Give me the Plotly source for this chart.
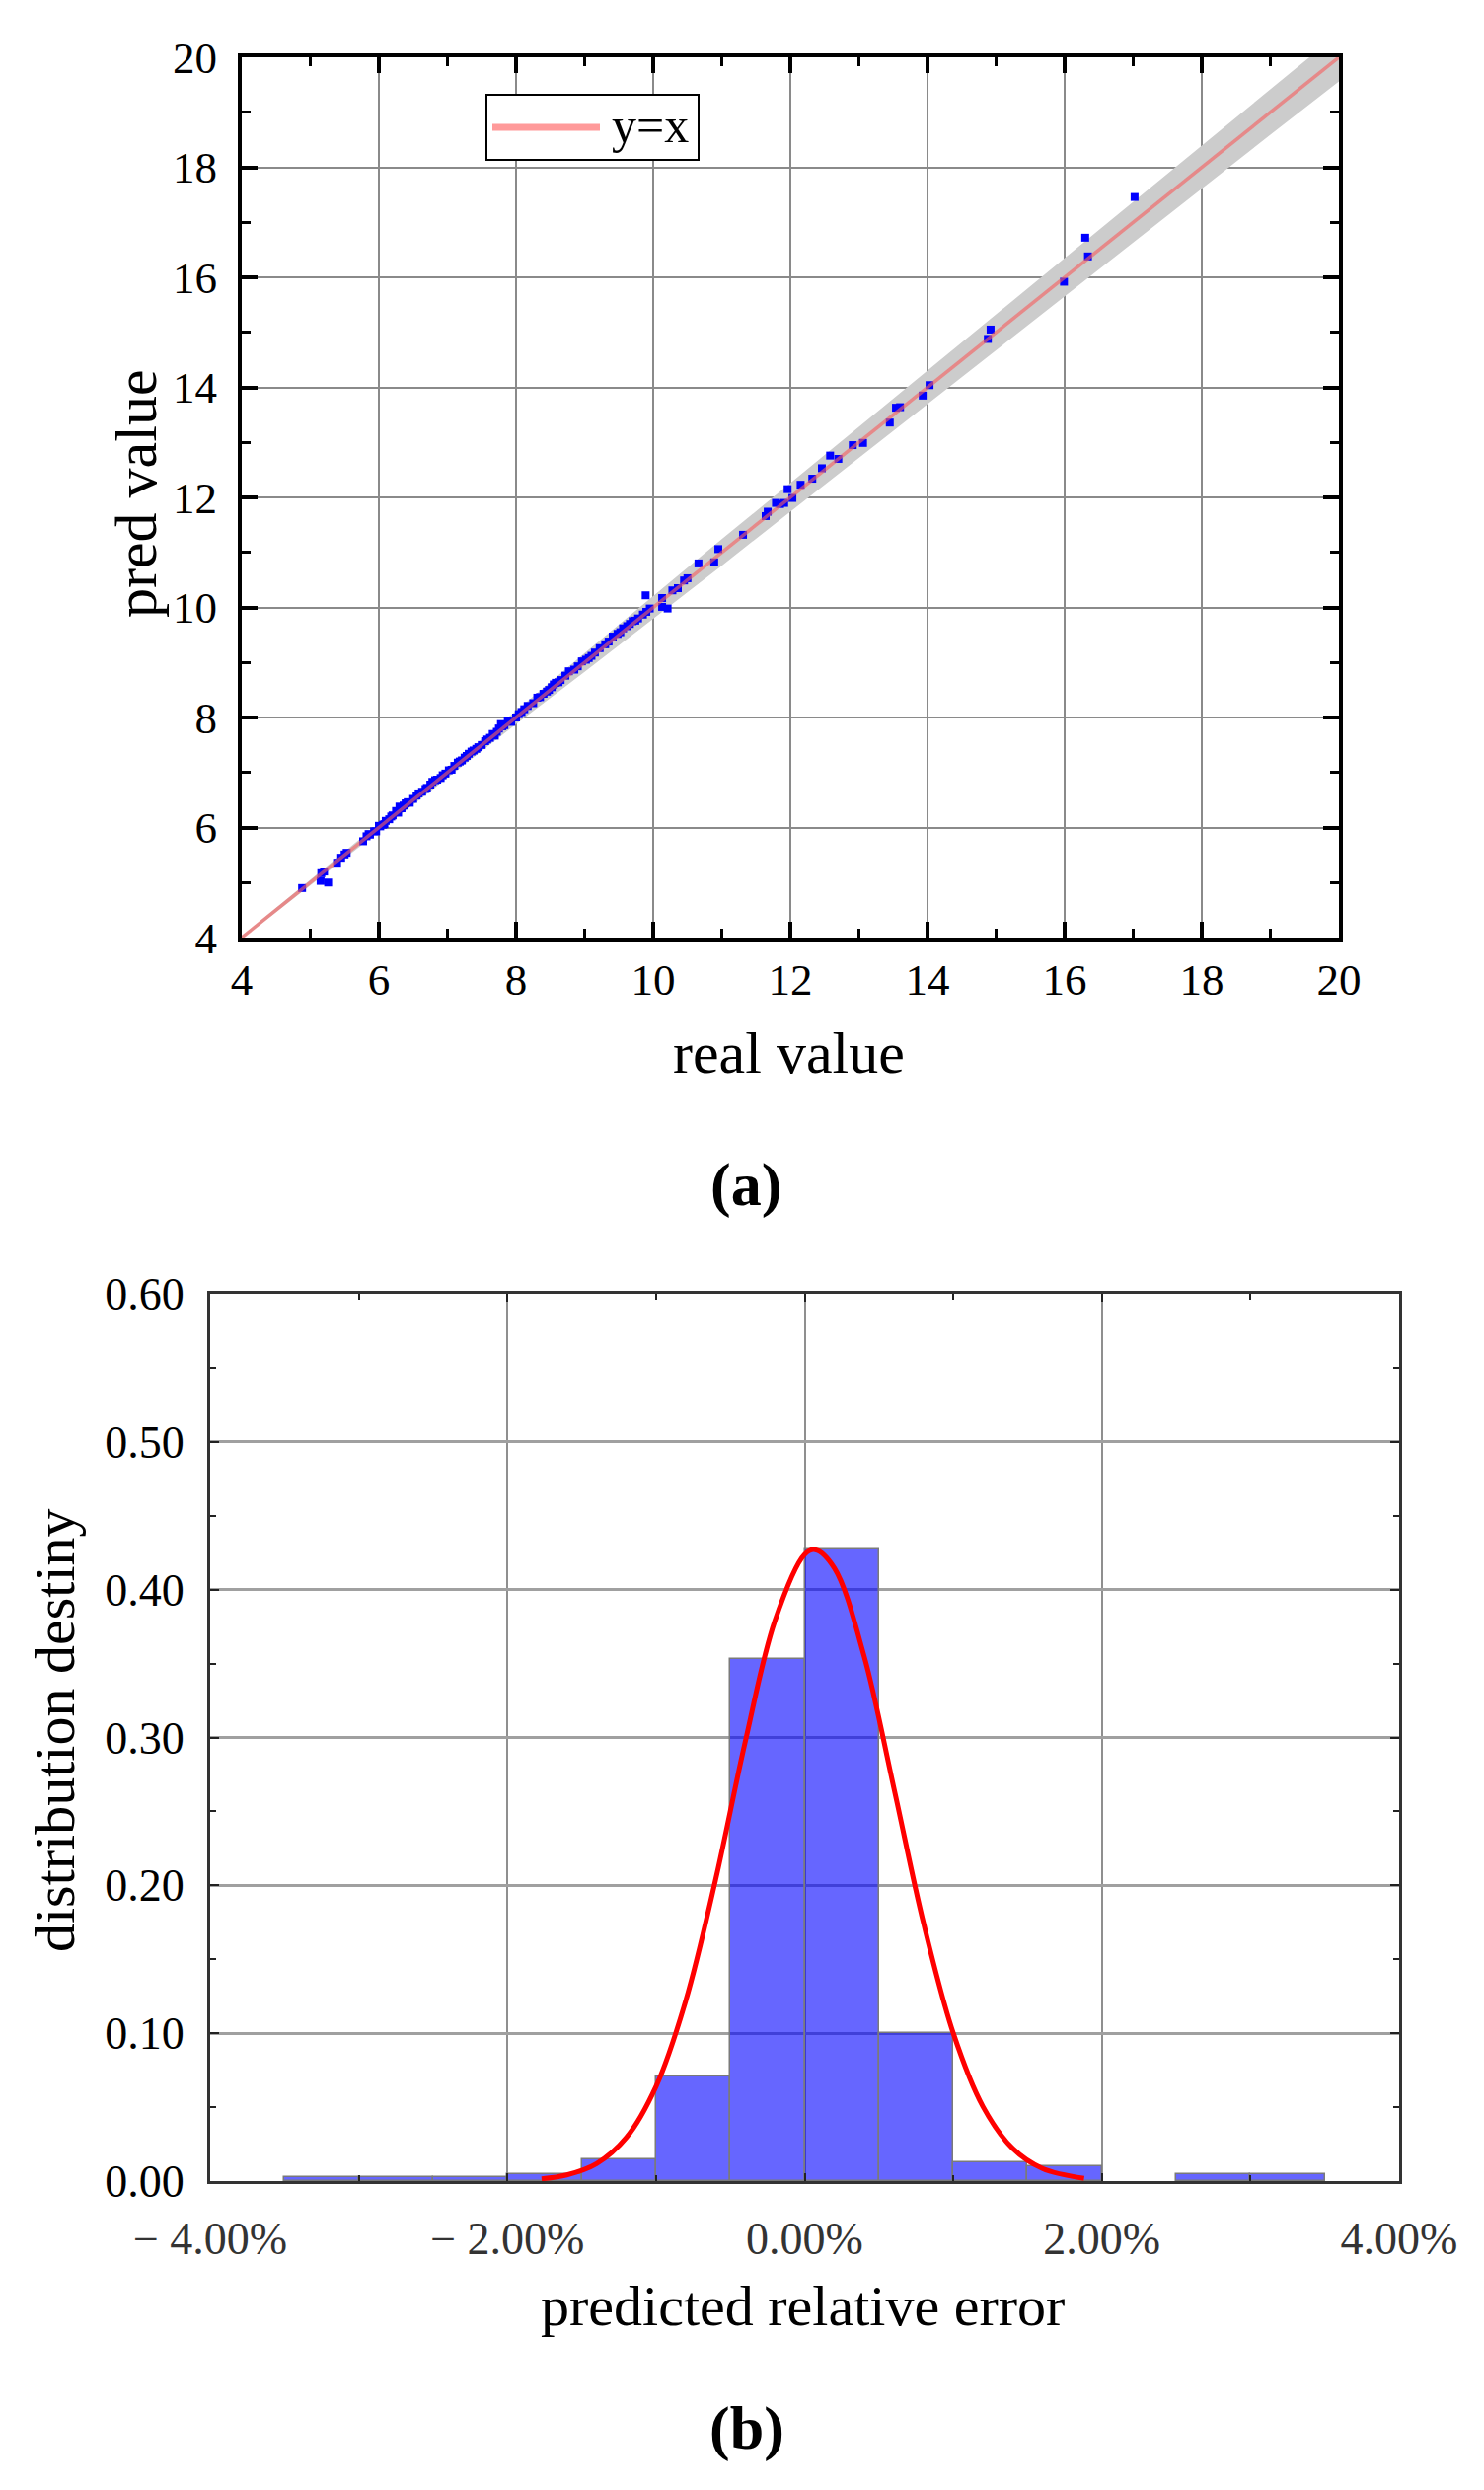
import plotly.graph_objects as go

# ---------------- data: panel (a) ----------------
real_value = [4.88, 5.15, 5.16, 5.20, 5.26, 5.39, 5.45, 5.50, 5.53, 5.77,
              5.82, 5.87, 5.93, 5.96, 6.02, 6.06, 6.10, 6.15, 6.20, 6.25,
              6.30, 6.33, 6.39, 6.45, 6.50, 6.58, 6.63, 6.70, 6.75, 6.78,
              6.85, 6.90, 6.97, 7.02, 7.10, 7.15, 7.21, 7.28, 7.31, 7.38,
              7.45, 7.50, 7.55, 7.62, 7.69, 7.75, 7.78, 7.83, 7.88, 7.93,
              8.00, 8.08, 8.17, 8.25, 8.31, 8.40, 8.45, 8.52, 8.58, 8.65,
              8.77, 8.85, 8.96, 9.02, 9.10, 9.22, 9.30, 9.41, 9.48, 9.56,
              9.62, 9.70, 9.78, 9.85, 9.89, 9.90, 9.95, 10.13, 10.13, 10.21,
              10.28, 10.36, 10.45, 10.50, 10.66, 10.89, 10.95, 11.31, 11.64, 11.67,
              11.79, 11.85, 11.91, 11.96, 12.03, 12.15, 12.32, 12.46, 12.58, 12.70,
              12.91, 13.06, 13.45, 13.54, 13.60, 13.93, 14.03, 14.88, 14.92, 15.99,
              16.30, 16.34, 17.02,
              5.85, 6.00, 6.08, 6.18, 6.28, 6.36, 6.42, 6.55, 6.68, 6.82,
              6.93, 7.06, 7.18, 7.25, 7.35, 7.42, 7.58, 7.66, 7.72, 7.80,
              8.04, 8.12, 8.35, 8.48, 8.55, 8.62, 8.72, 8.90, 9.06, 9.15,
              9.35, 9.52, 9.66, 9.74]
pred_value = [4.90, 5.03, 5.17, 5.20, 5.00, 5.36, 5.45, 5.51, 5.54, 5.75,
              5.84, 5.87, 5.93, 5.93, 6.02, 6.05, 6.12, 6.15, 6.22, 6.30,
              6.38, 6.35, 6.44, 6.45, 6.52, 6.62, 6.65, 6.72, 6.78, 6.83,
              6.87, 6.90, 6.98, 7.04, 7.12, 7.18, 7.22, 7.30, 7.34, 7.40,
              7.46, 7.50, 7.57, 7.63, 7.67, 7.80, 7.88, 7.86, 7.94, 7.92,
              8.00, 8.10, 8.21, 8.26, 8.36, 8.43, 8.47, 8.55, 8.63, 8.68,
              8.84, 8.87, 9.02, 9.05, 9.12, 9.26, 9.33, 9.47, 9.52, 9.62,
              9.66, 9.75, 9.80, 9.87, 10.22, 9.92, 9.98, 10.17, 10.01, 9.98,
              10.31, 10.35, 10.49, 10.53, 10.80, 10.82, 11.06, 11.32, 11.66, 11.74,
              11.90, 11.88, 11.90, 12.15, 11.99, 12.23, 12.34, 12.53, 12.76, 12.70,
              12.95, 12.99, 13.36, 13.63, 13.64, 13.85, 14.04, 14.88, 15.05, 15.92,
              16.72, 16.38, 17.46,
              5.88, 6.03, 6.06, 6.20, 6.27, 6.40, 6.46, 6.58, 6.70, 6.86,
              6.95, 7.05, 7.20, 7.27, 7.38, 7.43, 7.60, 7.70, 7.74, 7.84,
              8.06, 8.15, 8.37, 8.50, 8.60, 8.64, 8.76, 8.93, 9.08, 9.18,
              9.38, 9.55, 9.70, 9.76]
assert len(real_value) == len(pred_value)

band_x = [4, 5, 6, 7, 8, 9, 10, 11, 12, 13, 14, 15, 16, 17, 18, 19, 20]
band_halfwidth = [0.03, 0.05, 0.07, 0.09, 0.12, 0.17, 0.21, 0.24, 0.26, 0.28,
                  0.30, 0.32, 0.34, 0.36, 0.38, 0.41, 0.44]
identity_x = [4, 20]
legend_label = "y=x"

# ---------------- data: panel (b) ----------------
bin_centers = [-3.25, -2.75, -2.25, -1.75, -1.25, -0.75, -0.25,
               0.25, 0.75, 1.25, 1.75, 2.25, 2.75, 3.25]
bin_density = [0.0025, 0.0025, 0.0025, 0.005, 0.015, 0.071, 0.353,
               0.427, 0.100, 0.0125, 0.010, 0.0, 0.0045, 0.0045]
curve_x = [-1.77, -1.6, -1.4, -1.2, -1.0, -0.8, -0.6, -0.4, -0.2, 0.0,
           0.07, 0.2, 0.4, 0.6, 0.8, 1.0, 1.2, 1.4, 1.6, 1.88]
curve_y = [0.0015, 0.0042, 0.0118, 0.0294, 0.064, 0.122, 0.2035, 0.297, 0.379, 0.4238,
           0.427, 0.4146, 0.355, 0.266, 0.1744, 0.100, 0.0503, 0.0221, 0.0085, 0.0018]
b_tickvals = [-4, -2, 0, 2, 4]
b_ticktext = ["\u2212 4.00%", "\u2212 2.00%", "0.00%", "2.00%", "4.00%"]

# ---------------- layout geometry ----------------
W, H = 1504, 2523
FONT = "Liberation Serif"


def px_x(p):
    return p / W


def px_y(p):
    return 1 - p / H


fig = go.Figure()

band_lo = [x - h for x, h in zip(band_x, band_halfwidth)]
band_hi = [x + h for x, h in zip(band_x, band_halfwidth)]
fig.add_trace(go.Scatter(x=band_x, y=band_lo, mode="lines", line=dict(width=0),
                         showlegend=False, hoverinfo="skip", xaxis="x", yaxis="y"))
fig.add_trace(go.Scatter(x=band_x, y=band_hi, mode="lines", line=dict(width=0),
                         fill="tonexty", fillcolor="rgb(204,204,204)",
                         showlegend=False, hoverinfo="skip", xaxis="x", yaxis="y"))
fig.add_trace(go.Scatter(x=real_value, y=pred_value, mode="markers",
                         marker=dict(symbol="square", size=8, color="#0000FF"),
                         showlegend=False, xaxis="x", yaxis="y"))
fig.add_trace(go.Scatter(x=identity_x, y=identity_x, mode="lines", name=legend_label,
                         line=dict(color="rgba(245,95,95,0.62)", width=3.5),
                         showlegend=False, xaxis="x", yaxis="y"))

bar_x = [c for c, d in zip(bin_centers, bin_density) if d > 0]
bar_y = [d for d in bin_density if d > 0]
fig.add_trace(go.Bar(x=bar_x, y=bar_y, width=0.5,
                     marker=dict(color="rgba(0,0,255,0.6)",
                                 line=dict(color="#7a7a7a", width=1.5)),
                     showlegend=False, xaxis="x2", yaxis="y2"))
fig.add_trace(go.Scatter(x=curve_x, y=curve_y, mode="lines",
                         line=dict(color="#FF0000", width=5, shape="spline"),
                         showlegend=False, xaxis="x2", yaxis="y2"))

a_left, a_right, a_top, a_bottom = 237, 1349, 50, 942
b_left, b_right, b_top, b_bottom = 205, 1410, 1303, 2202

axis_a = dict(range=[4, 20], dtick=2, tick0=4, showgrid=True, gridcolor="#8a8a8a",
              gridwidth=2, zeroline=False, showline=True, linecolor="black",
              linewidth=4, mirror="ticks", ticks="inside", ticklen=16,
              tickwidth=4, tickcolor="black", automargin=False,
              minor=dict(dtick=1, tick0=4, ticks="inside", ticklen=9, tickwidth=3,
                         tickcolor="black", showgrid=False),
              tickfont=dict(family=FONT, size=45, color="black"))

fig.update_layout(
    width=W, height=H, margin=dict(l=0, r=0, t=0, b=0, autoexpand=False),
    paper_bgcolor="white", plot_bgcolor="white", bargap=0, showlegend=False,
    xaxis=dict(axis_a, domain=[px_x(a_left), px_x(a_right)], anchor="y",
               ticklabelstandoff=0),
    yaxis=dict(axis_a, domain=[px_y(a_bottom), px_y(a_top)], anchor="x",
               ticklabelstandoff=12),
    xaxis2=dict(range=[-4, 4], tickvals=b_tickvals, ticktext=b_ticktext,
                domain=[px_x(b_left), px_x(b_right)], anchor="y2",
                showgrid=True, gridcolor="#8f8f8f", gridwidth=2, zeroline=False,
                showline=True, linecolor="#333333", linewidth=3, mirror="ticks",
                ticks="inside", ticklen=8, tickwidth=2, tickcolor="#222222",
                automargin=False,
                minor=dict(dtick=1, tick0=0, ticks="inside", ticklen=6, tickwidth=2,
                           tickcolor="#222222", showgrid=False),
                ticklabelstandoff=16,
                tickfont=dict(family=FONT, size=46, color="#333333")),
    yaxis2=dict(range=[0, 0.6], dtick=0.1, tick0=0, tickformat=".2f",
                domain=[px_y(b_bottom), px_y(b_top)], anchor="x2",
                showgrid=True, gridcolor="#a0a0a0", gridwidth=2.5, zeroline=False,
                showline=True, linecolor="#333333", linewidth=3, mirror="ticks",
                ticks="inside", ticklen=9, tickwidth=2, tickcolor="#222222",
                automargin=False,
                minor=dict(dtick=0.05, tick0=0, ticks="inside", ticklen=6, tickwidth=2,
                           tickcolor="#222222", showgrid=False),
                ticklabelstandoff=14,
                tickfont=dict(family=FONT, size=46, color="black")),
)

# legend box of panel (a), drawn as in the reference (long thick sample line)
fig.add_shape(type="rect", xref="paper", yref="paper",
              x0=px_x(485), x1=px_x(700), y0=px_y(154), y1=px_y(88),
              line=dict(color="black", width=2), fillcolor="white", layer="above")
fig.add_shape(type="line", xref="paper", yref="paper",
              x0=px_x(491), x1=px_x(600), y0=px_y(121), y1=px_y(121),
              line=dict(color="#FF9A9A", width=7), layer="above")
fig.add_annotation(text=legend_label, x=px_x(610), y=px_y(119), xref="paper", yref="paper",
                   xanchor="left", yanchor="middle", showarrow=False,
                   font=dict(family=FONT, size=50, color="black"))

ann = [
    dict(text="pred value", x=px_x(130), y=px_y(492), textangle=-90, size=60),
    dict(text="real value", x=px_x(792), y=px_y(1059), textangle=0, size=60),
    dict(text="<b>(a)</b>", x=px_x(748), y=px_y(1192), textangle=0, size=62),
    dict(text="distribution destiny", x=px_x(47), y=px_y(1745), textangle=-90, size=58),
    dict(text="predicted relative error", x=px_x(805), y=px_y(2328), textangle=0, size=58),
    dict(text="<b>(b)</b>", x=px_x(749), y=px_y(2452), textangle=0, size=62),
]
for a in ann:
    fig.add_annotation(text=a["text"], x=a["x"], y=a["y"], xref="paper", yref="paper",
                       xanchor="center", yanchor="middle", showarrow=False,
                       textangle=a["textangle"],
                       font=dict(family=FONT, size=a["size"], color="black"))

fig.write_html("out.html")
